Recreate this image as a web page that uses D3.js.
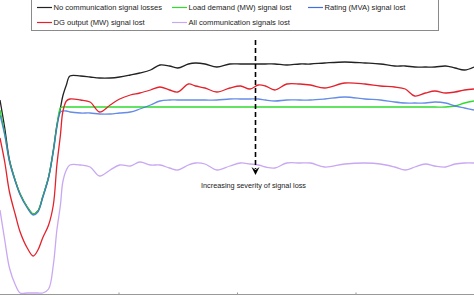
<!DOCTYPE html>
<html>
<head>
<meta charset="utf-8">
<script src="https://cdn.jsdelivr.net/npm/d3@7"></script>
<style>
  html, body { margin: 0; padding: 0; background: #fff; }
  svg { display: block; }
  text { font-family: "Liberation Sans", Arial, sans-serif; }
</style>
</head>
<body>
<svg id="chart" width="474" height="296"></svg>
<script>
// ---- data ----
const time = [0,0.04,0.08,0.13,0.17,0.23,0.28,0.32,0.36,0.41,0.45,0.48,0.51,0.53,0.56,0.59,0.68,0.76,0.84,0.93,1.01,1.10,1.18,1.27,1.35,1.43,1.50,1.59,1.65,1.73,1.83,1.94,2.03,2.11,2.18,2.24,2.32,2.42,2.53,2.62,2.74,2.91,3.08,3.21,3.33,3.42,3.50,3.59,3.67,3.76,3.84,3.92,4.00];

const noLoss = [194,166,134,113,100,87,80,83,97,117,144,169,186,198,209,218,218,217,216,216,217,219,221,224,229,228,226,230,231,230,227,230,230,230,230,230,230,229,230,230,231,232,231,230,228,228,227,227,227,228,226,224,227];

const loadLost = [184,160,133,113,100,87,80,83,97,117,143,168,186,187,187,187,187,187,187,187,187,187,187,187,187,187,187,187,187,187,187,187,187,187,187,187,187,187,187,187,187,187,187,187,187,187,187,187,187,187,188,191,193];

const ratingLost = [179,159,132,112,99,86,79,82,96,116,142,166,182,183,183,182,181,181,180,180,181,182,185,189,193,194,194,194,194,194,194,195,195,195,195,194,193,194,194,194,195,197,195,194,192,191,191,191,192,191,188,186,184];

const dgLost = [156,132,102,79,62,46,38,44,56,69,89,129,159,182,193,195,194,192,182,189,195,199,201,204,207,204,202,210,208,206,202,206,208,205,209,208,204,210,210,209,206,211,210,208,207,205,198,201,203,201,202,204,205];

const allLost = [84,54,26,9,1,1,1,1,1,5,29,64,89,112,124,129,129,127,118,124,129,128,132,129,129,126,124,129,131,130,124,128,131,130,129,127,126,131,131,131,127,130,131,130,127,124,127,130,128,127,130,131,131];

const xTicks = [1, 2, 3];
const legendLabels = ["No communication signal losses","Load demand (MW) signal lost","Rating (MVA) signal lost","DG output (MW) signal lost","All communication signals lost"];
const annotationText = "Increasing severity of signal loss";
const arrowTime = 2.15, arrowTop = 254, arrowBottom = 123;

// ---- chart ----
const W = 474, H = 296;
const svg = d3.select("#chart");
const x = d3.scaleLinear().domain([0, 4]).range([0, W]);
const y = d3.scaleLinear().domain([0, 300]).range([294, -6]);

const series = [
  {name: legendLabels[4], values: allLost,   color: "#c9a8f2", opacity: 1},
  {name: legendLabels[0], values: noLoss,    color: "#222222", opacity: 1},
  {name: legendLabels[1], values: loadLost,  color: "#2fdc2f", opacity: 1},
  {name: legendLabels[2], values: ratingLost,color: "#3f6fe0", opacity: 0.8},
  {name: legendLabels[3], values: dgLost,    color: "#e4222c", opacity: 1}
];

// axis
const axis = d3.axisBottom(x).tickValues(xTicks).tickSize(-2).tickFormat("");
const gx = svg.append("g").attr("transform", "translate(0,294.5)").call(axis);
gx.select(".domain").attr("stroke", "#999").attr("d", `M0,0H${W}`);
gx.selectAll(".tick line").attr("stroke", "#999");

const line = d3.line().x((d, i) => x(time[i])).y(d => y(d)).curve(d3.curveCatmullRom.alpha(0.5));
svg.append("g").selectAll("path").data(series).join("path")
  .attr("d", d => line(d.values))
  .attr("fill", "none")
  .attr("stroke", d => d.color)
  .attr("stroke-opacity", d => d.opacity)
  .attr("stroke-width", 1.3);

// annotation arrow
const ax = Math.round(x(arrowTime)) + 0.5;
svg.append("line")
  .attr("x1", ax).attr("x2", ax)
  .attr("y1", y(arrowTop)).attr("y2", y(arrowBottom) - 2)
  .attr("stroke", "#000").attr("stroke-width", 1.6)
  .attr("stroke-dasharray", "5,3");
const ay = y(arrowBottom);
svg.append("path")
  .attr("d", `M${ax-4},${ay-4} L${ax},${ay+4} L${ax+4},${ay-4} L${ax},${ay-1} Z`)
  .attr("fill", "#000");
svg.append("text")
  .attr("x", ax - 2).attr("y", ay + 17)
  .attr("text-anchor", "middle")
  .attr("font-size", 7.3).attr("fill", "#222")
  .text(annotationText);

// legend
const lg = svg.append("g");
lg.append("rect").attr("x", 31.5).attr("y", -6).attr("width", 407).attr("height", 36.5)
  .attr("fill", "#fff").attr("stroke", "#8a8a8a").attr("stroke-width", 1);
const legendItems = [
  {label: legendLabels[0], color: "#222222", lx: 37, ly: 7},
  {label: legendLabels[1], color: "#2fdc2f", lx: 172, ly: 7},
  {label: legendLabels[2], color: "#3f6fe0", lx: 308, ly: 7},
  {label: legendLabels[3], color: "#e4222c", lx: 37, ly: 22},
  {label: legendLabels[4], color: "#c9a8f2", lx: 172, ly: 22}
];
const li = lg.selectAll("g.item").data(legendItems).join("g").attr("class", "item");
li.append("line")
  .attr("x1", d => d.lx).attr("x2", d => d.lx + 15)
  .attr("y1", d => d.ly + 0.5).attr("y2", d => d.ly + 0.5)
  .attr("stroke", d => d.color).attr("stroke-width", 1.2);
li.append("text")
  .attr("x", d => d.lx + 16.5).attr("y", d => d.ly + 3)
  .attr("font-size", 7.6).attr("fill", "#222")
  .text(d => d.label);
</script>
</body>
</html>
